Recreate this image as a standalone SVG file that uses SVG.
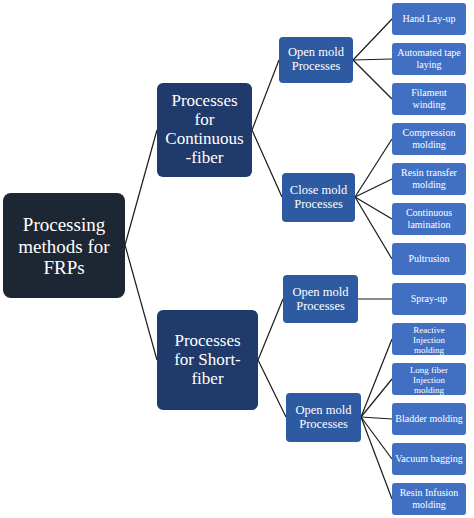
<svg xmlns="http://www.w3.org/2000/svg" width="474" height="518" viewBox="0 0 474 518">
<style>
text{font-family:"Liberation Serif","Times New Roman",serif;fill:#fff;text-anchor:middle}
.r{fill:#1d2633}
.l1{fill:#1f3a6b}
.l2{fill:#2e5aa1}
.l3{fill:#4170c3}
.t0{font-size:19px}
.t1{font-size:17px}
.t2{font-size:12.5px}
.t3{font-size:10px}
.t4{font-size:9px}
#connectors line{stroke:#1a1a1a;stroke-width:1.2}
</style>
<rect width="474" height="518" fill="#fff"/>
<g id="connectors">
<line x1="125" y1="245" x2="157" y2="130"/>
<line x1="125" y1="245" x2="157" y2="360"/>
<line x1="252" y1="130" x2="279" y2="60"/>
<line x1="252" y1="130" x2="282" y2="197"/>
<line x1="258" y1="360" x2="283" y2="299"/>
<line x1="258" y1="360" x2="286" y2="417"/>
<line x1="353" y1="60" x2="392" y2="19"/>
<line x1="353" y1="60" x2="392" y2="59"/>
<line x1="353" y1="60" x2="392" y2="99"/>
<line x1="355" y1="197" x2="392" y2="139"/>
<line x1="355" y1="197" x2="392" y2="179"/>
<line x1="355" y1="197" x2="392" y2="219"/>
<line x1="355" y1="197" x2="392" y2="259"/>
<line x1="358" y1="299" x2="392" y2="299"/>
<line x1="361" y1="417" x2="392" y2="339"/>
<line x1="361" y1="417" x2="392" y2="379"/>
<line x1="361" y1="417" x2="392" y2="419"/>
<line x1="361" y1="417" x2="392" y2="459"/>
<line x1="361" y1="417" x2="392" y2="499"/>
</g>
<g id="root"><rect class="r" x="3" y="193" width="122" height="105" rx="8"/>
<text class="t0" x="64" y="231">Processing</text><text class="t0" x="64" y="252.5">methods for</text><text class="t0" x="64" y="274">FRPs</text></g>
<g id="continuous"><rect class="l1" x="157" y="83" width="95" height="94" rx="6"/>
<text class="t1" x="204.5" y="106">Processes</text><text class="t1" x="204.5" y="125">for</text><text class="t1" x="204.5" y="144">Continuous</text><text class="t1" x="204.5" y="163">-fiber</text></g>
<g id="short"><rect class="l1" x="157" y="310" width="101" height="100" rx="6"/>
<text class="t1" x="207.5" y="346">Processes</text><text class="t1" x="207.5" y="365">for Short-</text><text class="t1" x="207.5" y="384">fiber</text></g>
<g id="open1"><rect class="l2" x="279" y="37" width="74" height="46" rx="4"/>
<text class="t2" x="316" y="56">Open mold</text><text class="t2" x="316" y="70">Processes</text></g>
<g id="close1"><rect class="l2" x="282" y="173" width="73" height="49" rx="4"/>
<text class="t2" x="318.5" y="194">Close mold</text><text class="t2" x="318.5" y="208">Processes</text></g>
<g id="open2"><rect class="l2" x="283" y="275" width="75" height="48" rx="4"/>
<text class="t2" x="320.5" y="296">Open mold</text><text class="t2" x="320.5" y="310">Processes</text></g>
<g id="open3"><rect class="l2" x="286" y="393" width="75" height="49" rx="4"/>
<text class="t2" x="323.5" y="414">Open mold</text><text class="t2" x="323.5" y="428">Processes</text></g>
<g id="hand"><rect class="l3" x="392" y="3" width="74" height="32" rx="3"/><text class="t3" x="429" y="22">Hand Lay-up</text></g>
<g id="atl"><rect class="l3" x="392" y="43" width="74" height="32" rx="3"/><text class="t3" x="429" y="56">Automated tape</text><text class="t3" x="429" y="68">laying</text></g>
<g id="filament"><rect class="l3" x="392" y="83" width="74" height="32" rx="3"/><text class="t3" x="429" y="96">Filament</text><text class="t3" x="429" y="108">winding</text></g>
<g id="compression"><rect class="l3" x="392" y="123" width="74" height="32" rx="3"/><text class="t3" x="429" y="136">Compression</text><text class="t3" x="429" y="148">molding</text></g>
<g id="rtm"><rect class="l3" x="392" y="163" width="74" height="32" rx="3"/><text class="t3" x="429" y="176">Resin transfer</text><text class="t3" x="429" y="188">molding</text></g>
<g id="lamination"><rect class="l3" x="392" y="203" width="74" height="32" rx="3"/><text class="t3" x="429" y="216">Continuous</text><text class="t3" x="429" y="228">lamination</text></g>
<g id="pultrusion"><rect class="l3" x="392" y="243" width="74" height="32" rx="3"/><text class="t3" x="429" y="262">Pultrusion</text></g>
<g id="spray"><rect class="l3" x="392" y="283" width="74" height="32" rx="3"/><text class="t3" x="429" y="302">Spray-up</text></g>
<g id="rim"><rect class="l3" x="392" y="323" width="74" height="32" rx="3"/><text class="t4" x="429" y="333">Reactive</text><text class="t4" x="429" y="343">Injection</text><text class="t4" x="429" y="353">molding</text></g>
<g id="lfi"><rect class="l3" x="392" y="363" width="74" height="32" rx="3"/><text class="t4" x="429" y="373">Long fiber</text><text class="t4" x="429" y="383">Injection</text><text class="t4" x="429" y="393">molding</text></g>
<g id="bladder"><rect class="l3" x="392" y="403" width="74" height="32" rx="3"/><text class="t3" x="429" y="422">Bladder molding</text></g>
<g id="vacuum"><rect class="l3" x="392" y="443" width="74" height="32" rx="3"/><text class="t3" x="429" y="462">Vacuum  bagging</text></g>
<g id="infusion"><rect class="l3" x="392" y="483" width="74" height="32" rx="3"/><text class="t3" x="429" y="496">Resin Infusion</text><text class="t3" x="429" y="508">molding</text></g>
</svg>
